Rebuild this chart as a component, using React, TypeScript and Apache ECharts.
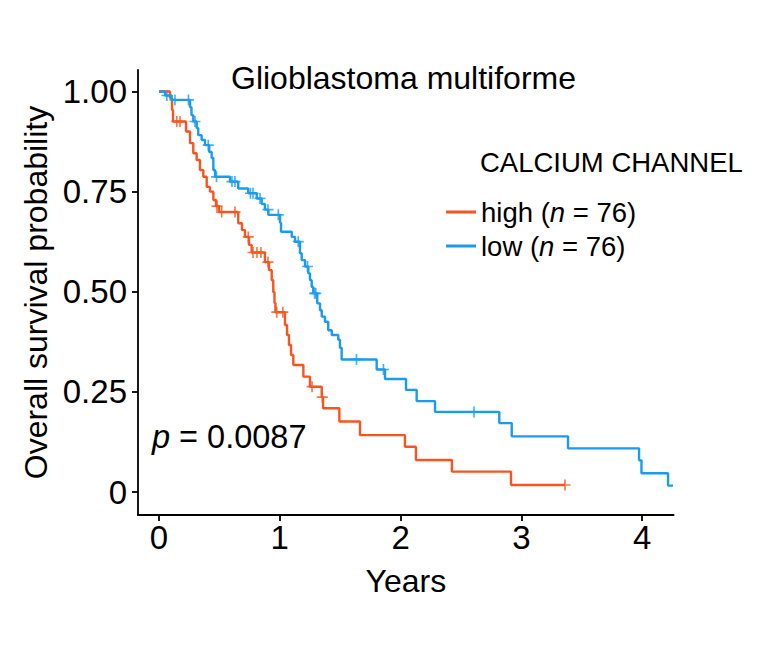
import { useEffect, useRef } from "react";
import * as echarts from "echarts";

// Kaplan–Meier estimates: event times (years) and survival just after each drop
const HIGH_TIME = [0, 0.091, 0.108, 0.116, 0.224, 0.257, 0.284, 0.312, 0.339, 0.367, 0.395, 0.422, 0.45, 0.472, 0.497, 0.656, 0.687, 0.712, 0.745, 0.767, 0.877, 0.911, 0.933, 0.946, 0.956, 0.964, 1.043, 1.06, 1.076, 1.093, 1.112, 1.195, 1.25, 1.347, 1.358, 1.493, 1.664, 2.036, 2.127, 2.425, 2.914, 3.361];
const HIGH_SURV = [1, 0.984, 0.954, 0.925, 0.9, 0.871, 0.846, 0.829, 0.804, 0.787, 0.762, 0.75, 0.729, 0.714, 0.699, 0.671, 0.654, 0.637, 0.617, 0.598, 0.574, 0.554, 0.529, 0.499, 0.472, 0.449, 0.417, 0.392, 0.367, 0.342, 0.317, 0.288, 0.263, 0.237, 0.209, 0.176, 0.142, 0.113, 0.08, 0.051, 0.0175, 0.0175];
const HIGH_CENSOR = [0.147, 0.174, 0.48, 0.519, 0.629, 0.739, 0.778, 0.811, 0.844, 0.902, 0.975, 1.025, 1.267, 1.352, 3.361];

const LOW_TIME = [0, 0.05, 0.105, 0.257, 0.269, 0.284, 0.312, 0.325, 0.353, 0.381, 0.416, 0.436, 0.45, 0.464, 0.588, 0.656, 0.739, 0.809, 0.85, 0.877, 0.906, 1.002, 1.01, 1.099, 1.126, 1.167, 1.181, 1.209, 1.236, 1.25, 1.264, 1.277, 1.31, 1.333, 1.347, 1.374, 1.401, 1.43, 1.484, 1.498, 1.512, 1.802, 1.871, 2.045, 2.133, 2.285, 2.817, 2.92, 3.386, 3.974, 3.994, 4.214, 4.255];
const LOW_SURV = [1, 0.99, 0.979, 0.961, 0.941, 0.925, 0.909, 0.891, 0.879, 0.866, 0.849, 0.834, 0.804, 0.787, 0.775, 0.758, 0.746, 0.733, 0.719, 0.705, 0.692, 0.672, 0.65, 0.637, 0.625, 0.596, 0.579, 0.563, 0.546, 0.529, 0.512, 0.496, 0.471, 0.454, 0.438, 0.425, 0.404, 0.392, 0.38, 0.36, 0.331, 0.306, 0.282, 0.255, 0.227, 0.2, 0.172, 0.139, 0.109, 0.079, 0.047, 0.016, 0.016];
const LOW_CENSOR = [0.065, 0.132, 0.244, 0.298, 0.408, 0.476, 0.604, 0.629, 0.757, 0.778, 0.836, 0.902, 0.988, 1.153, 1.229, 1.288, 1.298, 1.635, 1.858, 2.608];

const X_TICKS = [0, 1, 2, 3, 4];
const Y_TICKS = [0, 0.25, 0.5, 0.75, 1];

const N_HIGH = 76;
const N_LOW = 76;
const P_VALUE = "0.0087";

const ORANGE = "#F8541F";
const BLUE = "#1A9BEE";
const FONT = "'Liberation Sans', Arial, Helvetica, sans-serif";
const PLUS = "path://M4.25,0h1.5v4.25h4.25v1.5h-4.25v4.25h-1.5v-4.25h-4.25v-1.5h4.25z";

function survivalAt(times: number[], surv: number[], t: number) {
  let s = surv[0];
  for (let i = 0; i < times.length; i++) {
    if (times[i] <= t) s = surv[i];
    else break;
  }
  return s;
}

export default function App() {
  const ref = useRef<HTMLDivElement>(null);

  useEffect(() => {
    const chart = echarts.init(ref.current!, null, { renderer: "svg" });
    const axisLine = { show: true, onZero: false, lineStyle: { color: "#000", width: 1.8 } };
    const tick = { show: true, length: 6, lineStyle: { color: "#000", width: 1.8 } };
    const label = { color: "#000", fontSize: 33, fontFamily: FONT };

    chart.setOption({
      animation: false,
      backgroundColor: "#fff",
      title: {
        text: "Glioblastoma multiforme",
        left: 226,
        top: 57,
        textStyle: { color: "#000", fontSize: 32, fontWeight: "normal", fontFamily: FONT },
      },
      grid: { left: 138, right: 94.4, top: 70, bottom: 130 },
      xAxis: {
        type: "value",
        min: -0.1738,
        max: 4.26,
        axisLine,
        axisTick: { ...tick, customValues: X_TICKS },
        axisLabel: { ...label, margin: 6, customValues: X_TICKS },
        splitLine: { show: false },
        name: "Years",
        nameLocation: "middle",
        nameGap: 50,
        nameTextStyle: { ...label, fontSize: 32 },
      },
      yAxis: {
        type: "value",
        min: -0.0574,
        max: 1.0537,
        axisLine,
        axisTick: { ...tick, customValues: Y_TICKS },
        axisLabel: {
          ...label,
          margin: 11,
          customValues: Y_TICKS,
          formatter: (v: number) => (v === 0 ? "0" : v.toFixed(2)),
        },
        splitLine: { show: false },
        name: "Overall survival probability",
        nameLocation: "middle",
        nameGap: 85,
        nameTextStyle: { ...label, fontSize: 32 },
      },
      legend: {
        data: ["high", "low"],
        orient: "vertical",
        left: 441,
        top: 193,
        icon: "rect",
        itemWidth: 30,
        itemHeight: 3,
        itemGap: 6,
        formatter: (name: string) =>
          `${name} ({i|n} = ${name === "high" ? N_HIGH : N_LOW})`,
        textStyle: {
          color: "#000",
          fontSize: 27.5,
          lineHeight: 28,
          fontFamily: FONT,
          rich: { i: { fontStyle: "italic", fontSize: 27.5, fontFamily: FONT, color: "#000" } },
        },
      },
      graphic: [
        {
          type: "text",
          left: 480,
          top: 148,
          style: { text: "CALCIUM CHANNEL", fontSize: 27.5, fontFamily: FONT, fill: "#000" },
        },
        {
          type: "text",
          left: 152,
          top: 420,
          style: {
            text: "{i|p} = " + P_VALUE,
            fontSize: 32.5,
            fontFamily: FONT,
            fill: "#000",
            rich: { i: { fontStyle: "italic", fontSize: 32.5, fontFamily: FONT, fill: "#000" } },
          },
        },
      ],
      series: [
        {
          name: "high",
          type: "line",
          step: "end",
          showSymbol: false,
          data: HIGH_TIME.map((t, i) => [t, HIGH_SURV[i]]),
          lineStyle: { color: ORANGE, width: 2.4 },
          itemStyle: { color: ORANGE },
        },
        {
          name: "low",
          type: "line",
          step: "end",
          showSymbol: false,
          data: LOW_TIME.map((t, i) => [t, LOW_SURV[i]]),
          lineStyle: { color: BLUE, width: 2.4 },
          itemStyle: { color: BLUE },
        },
        {
          name: "high censored",
          type: "scatter",
          symbol: PLUS,
          symbolSize: 11,
          data: HIGH_CENSOR.map((t) => [t, survivalAt(HIGH_TIME, HIGH_SURV, t)]),
          itemStyle: { color: ORANGE },
        },
        {
          name: "low censored",
          type: "scatter",
          symbol: PLUS,
          symbolSize: 11,
          data: LOW_CENSOR.map((t) => [t, survivalAt(LOW_TIME, LOW_SURV, t)]),
          itemStyle: { color: BLUE },
        },
      ],
    });

    return () => chart.dispose();
  }, []);

  return (
    <div
      ref={ref}
      style={{ position: "absolute", left: 0, top: 0, width: 768, height: 645, background: "#fff" }}
    />
  );
}
